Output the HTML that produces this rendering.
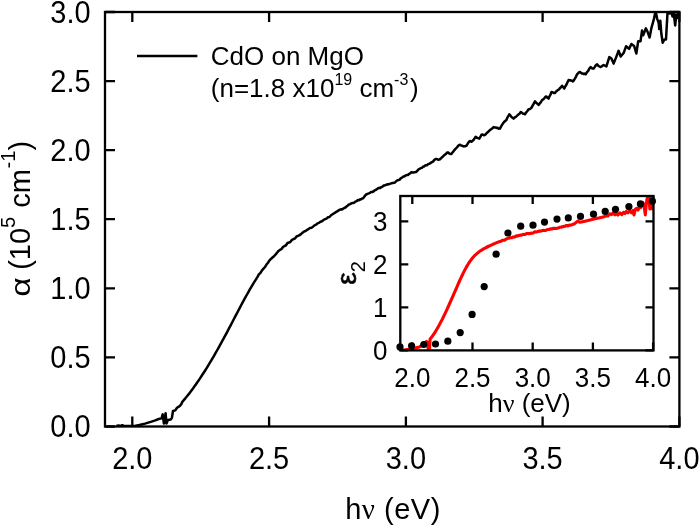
<!DOCTYPE html>
<html><head><meta charset="utf-8"><title>CdO on MgO absorption</title>
<style>html,body{margin:0;padding:0;background:#fff;overflow:hidden}svg{display:block}</style>
</head><body>
<svg width="700" height="526" viewBox="0 0 700 526"><rect width="700" height="526" fill="#fff"/><defs><clipPath id="mc"><rect x="105.0" y="12.0" width="574.4" height="414.5"/></clipPath><clipPath id="ic"><rect x="400.3" y="196.0" width="253.2" height="154.4"/></clipPath></defs><path d="M116.4 426.0 L118.5 425.4 L120.5 426.0 L122.1 425.2 L124.0 426.0 L127.9 425.9 L134.7 425.9 L139.3 425.0 L145.0 423.6 L150.7 421.9 L155.3 420.4 L158.7 419.0 L161.6 418.4 L162.7 414.4 L163.9 423.6 L165.6 413.3 L166.5 423.6 L167.9 420.1 L170.7 419.6 L171.9 417.9 L173.0 411.0 L175.3 410.4 L177.0 407.8 L179.6 406.1 L181.0 404.6 L182.5 401.6 L184.0 399.9 L185.5 398.1 L187.0 396.2 L188.5 394.4 L190.0 392.4 L191.5 390.4 L193.0 388.4 L194.5 386.3 L196.0 384.2 L197.5 382.1 L199.0 379.9 L200.5 377.6 L202.0 375.3 L203.5 373.0 L205.0 370.7 L206.5 368.3 L208.0 365.8 L209.5 363.4 L211.0 360.9 L212.5 358.3 L214.0 355.8 L215.5 353.2 L217.0 350.5 L218.5 347.9 L220.0 345.2 L221.5 342.4 L223.0 339.7 L224.5 336.9 L226.0 334.1 L227.5 331.3 L229.0 328.4 L230.5 325.6 L232.0 322.7 L233.5 319.8 L235.0 316.9 L236.5 314.1 L238.0 311.2 L239.5 308.4 L241.0 305.5 L242.5 302.7 L244.0 299.9 L245.5 297.2 L247.0 294.5 L248.5 291.8 L250.0 289.2 L251.5 286.6 L253.0 284.1 L254.5 281.7 L256.0 279.3 L257.5 276.9 L259.0 274.2 L260.5 272.9 L262.0 270.4 L263.5 268.7 L265.0 267.0 L266.5 264.6 L268.0 262.7 L269.5 260.4 L271.0 258.9 L272.5 257.5 L274.0 256.2 L275.5 254.7 L277.0 252.7 L278.5 250.9 L280.0 249.8 L281.5 249.1 L283.0 247.0 L284.5 246.0 L286.0 245.3 L287.5 243.0 L289.0 242.5 L290.5 241.8 L292.0 239.8 L293.5 239.1 L295.0 238.4 L296.5 236.5 L298.0 235.9 L299.5 235.1 L301.0 234.1 L302.5 232.8 L304.0 231.6 L305.5 231.0 L307.0 229.9 L308.5 229.1 L310.0 228.0 L311.5 227.7 L313.0 226.7 L314.5 225.3 L316.0 224.7 L317.5 223.4 L319.0 222.8 L320.5 221.7 L322.0 221.2 L323.5 220.0 L325.0 219.2 L326.5 218.6 L328.0 217.3 L329.5 217.0 L331.0 215.2 L338.3 210.6 L339.5 209.9 L340.8 209.3 L342.0 209.5 L343.1 208.7 L344.3 208.0 L345.4 207.5 L346.6 206.4 L347.7 205.7 L348.9 204.4 L350.0 204.2 L351.4 203.4 L352.5 202.9 L353.5 202.9 L354.6 202.3 L355.7 201.4 L356.8 201.1 L357.9 199.9 L358.9 200.3 L360.0 199.3 L361.0 199.5 L361.9 198.5 L362.9 198.6 L363.9 197.3 L365.0 195.7 L366.2 194.5 L367.5 193.9 L368.8 193.4 L370.0 192.9 L371.1 191.9 L372.3 192.0 L373.4 191.5 L374.6 190.4 L375.7 190.0 L376.8 189.2 L378.0 188.4 L379.1 187.8 L380.3 187.9 L381.4 187.1 L382.5 186.6 L383.7 185.5 L384.8 185.4 L386.0 184.8 L387.1 184.3 L388.3 184.4 L389.4 184.0 L390.6 183.6 L391.7 183.2 L392.9 182.9 L394.0 182.8 L395.2 182.3 L396.3 181.0 L397.5 180.3 L398.6 180.0 L399.7 179.6 L400.9 178.1 L402.0 177.7 L403.2 176.6 L404.3 176.4 L405.5 175.7 L406.7 175.0 L407.9 175.0 L409.1 173.8 L410.2 173.4 L411.4 172.1 L412.5 172.5 L413.5 172.4 L414.6 172.2 L415.7 172.1 L416.8 171.4 L417.9 170.2 L418.9 169.1 L420.0 168.6 L421.1 168.0 L422.1 167.8 L423.2 166.5 L424.3 166.4 L425.6 165.2 L426.9 165.3 L428.1 164.1 L429.4 163.8 L430.7 162.9 L431.9 162.2 L433.2 161.4 L434.4 159.9 L435.7 159.0 L436.9 159.0 L438.1 159.7 L439.3 159.6 L440.4 158.9 L441.5 157.8 L442.5 157.0 L443.6 155.7 L444.8 154.8 L445.9 154.0 L447.1 152.4 L448.2 152.6 L449.2 153.4 L450.3 154.0 L451.4 153.9 L452.5 152.4 L453.5 151.4 L454.6 149.8 L455.7 148.6 L456.8 147.6 L457.9 146.2 L458.9 145.1 L460.0 144.7 L461.2 145.6 L462.4 145.8 L463.6 146.4 L464.5 146.3 L465.5 146.2 L466.4 145.7 L467.4 144.2 L468.3 142.7 L469.3 141.4 L470.2 141.0 L471.2 141.7 L472.1 141.4 L473.3 140.2 L474.5 138.5 L475.7 136.7 L476.9 137.7 L478.1 138.1 L479.3 138.6 L480.4 136.9 L481.4 134.7 L482.6 134.5 L483.8 135.2 L485.0 135.0 L486.2 133.6 L487.4 132.5 L488.6 131.4 L489.9 130.1 L491.1 129.3 L492.4 128.3 L493.6 127.1 L494.5 127.4 L495.5 127.4 L496.4 127.9 L497.6 127.8 L498.8 128.7 L500.0 128.6 L501.0 126.7 L501.9 125.2 L502.9 123.6 L504.1 122.0 L505.2 121.0 L506.4 120.0 L507.4 117.6 L508.3 116.0 L509.3 114.3 L510.4 115.6 L511.5 117.0 L512.5 117.7 L513.6 118.6 L514.8 117.4 L515.9 116.8 L517.1 115.7 L518.3 114.6 L519.5 113.7 L520.7 112.1 L521.8 112.7 L522.9 113.7 L523.9 113.7 L525.0 114.3 L526.2 112.4 L527.4 111.0 L528.6 109.3 L529.5 109.3 L530.5 108.6 L531.4 107.9 L532.6 105.7 L533.8 103.6 L535.0 101.4 L536.2 102.8 L537.4 103.7 L538.6 105.0 L539.8 103.4 L540.9 102.2 L542.1 100.0 L543.3 99.3 L544.5 98.0 L545.7 96.4 L546.7 96.7 L547.6 97.9 L548.6 98.6 L549.5 96.3 L550.5 94.7 L551.4 92.1 L552.6 92.2 L553.8 93.1 L555.0 92.9 L556.0 91.6 L556.9 90.9 L557.9 90.0 L559.0 89.4 L560.0 88.0 L561.0 87.3 L562.1 85.7 L563.2 87.2 L564.3 88.6 L565.4 86.2 L566.5 84.5 L567.5 82.2 L568.6 80.0 L569.7 80.4 L570.8 80.3 L571.8 80.7 L572.9 81.4 L574.0 80.1 L575.0 78.4 L576.0 76.6 L577.1 74.3 L578.1 73.4 L579.0 72.3 L580.0 72.1 L581.0 72.7 L581.9 73.4 L582.9 73.6 L583.8 74.0 L584.8 73.6 L585.7 74.3 L587.0 72.2 L588.2 70.9 L589.5 68.4 L590.7 67.1 L591.7 68.0 L592.6 68.6 L593.6 68.6 L594.8 66.9 L595.9 65.2 L597.1 64.3 L598.3 65.8 L599.5 66.5 L600.7 67.1 L603.6 65.0 L606.4 66.4 L609.3 57.1 L611.4 58.6 L613.6 63.6 L616.0 57.6 L618.6 50.8 L620.7 56.5 L623.8 52.7 L626.1 46.2 L629.1 48.9 L631.4 44.0 L634.1 45.9 L636.3 53.5 L638.2 41.3 L640.5 41.3 L642.0 30.6 L643.2 35.2 L645.8 28.4 L647.4 31.4 L649.6 37.5 L651.5 27.6 L653.0 22.3 L654.0 18.6 L655.6 11.0 L657.1 18.6 L658.7 22.8 L659.2 29.1 L660.3 20.7 L661.3 33.3 L662.7 42.7 L664.5 39.5 L666.0 39.5 L667.6 11.0 L669.5 13.5 L671.0 11.5 L672.5 16.5 L673.6 12.5 L675.2 25.4 L676.3 14.5 L677.3 18.0 L678.6 11.0" fill="none" stroke="#000" stroke-width="2.5" stroke-linejoin="round" clip-path="url(#mc)"/><rect x="105.0" y="12.0" width="574.4" height="414.5" fill="none" stroke="#000" stroke-width="2.3"/><path d="M132.3 426.5 V416.5 M132.3 12.0 V22.0 M269.1 426.5 V416.5 M269.1 12.0 V22.0 M405.9 426.5 V416.5 M405.9 12.0 V22.0 M542.6 426.5 V416.5 M542.6 12.0 V22.0 M679.4 426.5 V416.5 M679.4 12.0 V22.0 M105.0 426.5 H115.0 M679.4 426.5 H669.4 M105.0 357.4 H115.0 M679.4 357.4 H669.4 M105.0 288.3 H115.0 M679.4 288.3 H669.4 M105.0 219.2 H115.0 M679.4 219.2 H669.4 M105.0 150.2 H115.0 M679.4 150.2 H669.4 M105.0 81.1 H115.0 M679.4 81.1 H669.4 M105.0 12.0 H115.0 M679.4 12.0 H669.4" stroke="#000" stroke-width="2.3" fill="none"/><g font-family="'Liberation Sans', Arial, Helvetica, sans-serif" font-size="29" fill="#000"><text transform="translate(90.6 437.4) scale(1 1.065)" text-anchor="end">0.0</text><text transform="translate(90.6 368.3) scale(1 1.065)" text-anchor="end">0.5</text><text transform="translate(90.6 299.2) scale(1 1.065)" text-anchor="end">1.0</text><text transform="translate(90.6 230.2) scale(1 1.065)" text-anchor="end">1.5</text><text transform="translate(90.6 161.1) scale(1 1.065)" text-anchor="end">2.0</text><text transform="translate(90.6 92.0) scale(1 1.065)" text-anchor="end">2.5</text><text transform="translate(90.6 22.9) scale(1 1.065)" text-anchor="end">3.0</text><text transform="translate(132.3 468.8) scale(1 1.065)" text-anchor="middle">2.0</text><text transform="translate(269.1 468.8) scale(1 1.065)" text-anchor="middle">2.5</text><text transform="translate(405.9 468.8) scale(1 1.065)" text-anchor="middle">3.0</text><text transform="translate(542.6 468.8) scale(1 1.065)" text-anchor="middle">3.5</text><text transform="translate(679.4 468.8) scale(1 1.065)" text-anchor="middle">4.0</text><text x="393" y="518.9" text-anchor="middle" letter-spacing="0.5">h<tspan font-family="Liberation Serif">ν</tspan> (eV)</text><text transform="translate(29.9 296.7) rotate(-90) scale(1.16 0.97)">α</text><text transform="translate(29.9 0) rotate(-90)"><tspan x="-269.8" y="0">(10</tspan><tspan y="-15.1" font-size="20">5</tspan><tspan x="-207.7" y="0">cm</tspan><tspan x="-168.5" y="-15" font-size="20">-1</tspan><tspan x="-150.4" y="0">)</tspan></text></g><path d="M137 56 H197.4" stroke="#000" stroke-width="2.4"/><g font-family="'Liberation Sans', Arial, Helvetica, sans-serif" font-size="26" fill="#000"><text x="210.8" y="64.5">CdO on MgO</text><text x="210.8" y="97">(n=1.8 x10<tspan dy="-12" font-size="16">19</tspan><tspan dy="12"> cm</tspan><tspan dy="-12" font-size="16">-3</tspan><tspan dy="12" dx="1.6">)</tspan></text></g><rect x="400.3" y="196.0" width="253.2" height="154.4" fill="#fff"/><path d="M401.5 350.2 L405.0 349.8 L410.0 349.0 L415.0 348.0 L419.4 347.1 L423.0 344.5 L426.6 341.4 L427.8 343.0 L428.4 351.4 L429.4 351.4 L430.1 339.0 L431.1 337.8 L432.1 336.5 L433.1 335.1 L434.1 333.6 L435.1 332.1 L436.1 330.5 L437.1 328.8 L438.1 327.1 L439.1 325.3 L440.1 323.4 L441.1 321.5 L442.1 319.6 L443.1 317.6 L444.1 315.5 L445.1 313.4 L446.1 311.3 L447.1 309.2 L448.1 307.0 L449.1 304.7 L450.1 302.5 L451.1 300.2 L452.1 298.0 L453.1 295.7 L454.1 293.4 L455.1 291.1 L456.1 288.8 L457.1 286.5 L458.1 284.2 L459.1 282.0 L460.1 279.7 L461.1 277.6 L462.1 275.5 L463.1 273.4 L464.1 271.4 L465.1 269.5 L466.1 267.6 L467.1 265.9 L468.1 264.2 L469.1 262.6 L470.1 261.2 L471.1 259.8 L472.1 258.5 L473.1 257.3 L474.1 256.2 L475.1 255.2 L476.1 254.3 L477.1 253.4 L478.1 252.6 L479.1 251.8 L480.1 251.1 L481.1 250.4 L482.1 249.8 L483.1 249.2 L484.1 248.6 L485.1 248.1 L486.1 247.5 L487.1 247.0 L488.1 246.5 L489.1 246.0 L490.1 245.6 L491.1 245.1 L492.1 244.7 L493.1 244.2 L494.1 243.8 L495.1 243.4 L496.1 242.9 L497.1 242.5 L498.1 242.1 L499.1 241.7 L500.1 241.4 L501.1 241.2 L502.1 240.4 L503.1 240.3 L504.1 240.3 L505.1 240.0 L506.1 238.9 L507.1 238.7 L508.1 238.2 L509.1 238.3 L510.1 237.6 L511.1 237.7 L512.1 237.6 L513.1 236.9 L514.1 237.1 L515.1 236.7 L516.1 235.9 L517.1 236.2 L518.1 235.6 L519.1 235.5 L520.1 235.1 L521.1 235.3 L522.1 234.8 L523.1 234.3 L524.1 234.5 L525.1 234.5 L526.1 233.8 L527.1 233.5 L528.1 233.5 L529.1 233.8 L530.1 233.6 L531.1 233.1 L532.1 233.2 L533.1 232.9 L534.1 232.2 L535.1 231.8 L536.1 232.1 L537.1 231.8 L538.1 231.4 L539.1 231.1 L540.1 231.1 L541.1 231.0 L542.1 230.6 L543.1 230.4 L544.1 230.4 L545.1 230.6 L546.1 230.2 L547.1 229.7 L548.1 229.5 L549.1 229.5 L550.1 229.0 L551.1 228.8 L552.1 229.0 L553.1 228.3 L554.1 228.5 L555.1 228.2 L556.1 228.4 L557.1 228.2 L558.1 227.9 L559.1 227.7 L560.1 227.2 L561.1 227.3 L562.1 226.7 L563.1 226.7 L564.1 226.3 L565.1 226.2 L566.1 225.5 L567.1 225.5 L568.1 226.0 L569.1 225.0 L570.1 225.2 L571.1 224.9 L572.1 224.7 L573.1 224.2 L574.1 224.0 L578.0 221.1 L580.0 222.3 L585.0 221.2 L590.0 220.0 L595.0 218.8 L600.0 217.7 L604.0 216.8 L606.4 215.7 L608.0 216.0 L610.0 213.8 L611.6 214.6 L613.0 213.0 L615.0 214.8 L616.7 213.3 L618.0 215.0 L620.0 212.8 L621.8 214.6 L623.5 212.3 L625.0 213.6 L626.3 211.3 L628.0 212.8 L629.9 210.8 L631.5 212.8 L633.0 210.5 L634.0 215.0 L635.2 209.5 L636.7 208.3 L638.0 210.0 L639.5 206.8 L640.7 207.5 L642.0 204.6 L643.0 202.6 L644.2 207.0 L645.3 214.9 L646.2 205.0 L647.0 199.0 L648.7 195.4 L649.9 209.0 L650.8 203.0 L651.6 197.7 L652.7 209.0 L653.5 203.0" fill="none" stroke="#f00" stroke-width="3.1" stroke-linejoin="round" clip-path="url(#ic)"/><circle cx="400.0" cy="346.9" r="3.6" fill="#000"/><circle cx="411.6" cy="345.8" r="3.6" fill="#000"/><circle cx="423.8" cy="344.5" r="3.6" fill="#000"/><circle cx="435.5" cy="344.0" r="3.6" fill="#000"/><circle cx="447.8" cy="341.2" r="3.6" fill="#000"/><circle cx="460.2" cy="332.6" r="3.6" fill="#000"/><circle cx="472.1" cy="314.4" r="3.6" fill="#000"/><circle cx="484.2" cy="286.6" r="3.6" fill="#000"/><circle cx="496.1" cy="254.2" r="3.6" fill="#000"/><circle cx="507.9" cy="233.0" r="3.6" fill="#000"/><circle cx="520.7" cy="226.2" r="3.6" fill="#000"/><circle cx="533.0" cy="225.2" r="3.6" fill="#000"/><circle cx="544.5" cy="222.1" r="3.6" fill="#000"/><circle cx="557.0" cy="219.1" r="3.6" fill="#000"/><circle cx="568.3" cy="217.9" r="3.6" fill="#000"/><circle cx="580.5" cy="216.4" r="3.6" fill="#000"/><circle cx="593.5" cy="214.2" r="3.6" fill="#000"/><circle cx="605.2" cy="211.4" r="3.6" fill="#000"/><circle cx="615.5" cy="209.3" r="3.6" fill="#000"/><circle cx="628.9" cy="206.6" r="3.6" fill="#000"/><circle cx="640.4" cy="203.9" r="3.6" fill="#000"/><circle cx="652.4" cy="201.2" r="3.6" fill="#000"/><rect x="400.3" y="196.0" width="253.2" height="154.4" fill="none" stroke="#000" stroke-width="2.3"/><path d="M412.3 350.4 V342.4 M412.3 196.0 V204.0 M472.5 350.4 V342.4 M472.5 196.0 V204.0 M532.7 350.4 V342.4 M532.7 196.0 V204.0 M592.9 350.4 V342.4 M592.9 196.0 V204.0 M653.1 350.4 V342.4 M653.1 196.0 V204.0 M400.3 350.4 H408.3 M653.5 350.4 H645.5 M400.3 307.4 H408.3 M653.5 307.4 H645.5 M400.3 264.3 H408.3 M653.5 264.3 H645.5 M400.3 221.3 H408.3 M653.5 221.3 H645.5" stroke="#000" stroke-width="2.3" fill="none"/><g font-family="'Liberation Sans', Arial, Helvetica, sans-serif" font-size="26" fill="#000"><text transform="translate(387.5 359.9) scale(1 1.065)" text-anchor="end">0</text><text transform="translate(387.5 316.9) scale(1 1.065)" text-anchor="end">1</text><text transform="translate(387.5 273.8) scale(1 1.065)" text-anchor="end">2</text><text transform="translate(387.5 230.8) scale(1 1.065)" text-anchor="end">3</text><text transform="translate(412.3 386.9) scale(1 1.065)" text-anchor="middle">2.0</text><text transform="translate(472.5 386.9) scale(1 1.065)" text-anchor="middle">2.5</text><text transform="translate(532.7 386.9) scale(1 1.065)" text-anchor="middle">3.0</text><text transform="translate(592.9 386.9) scale(1 1.065)" text-anchor="middle">3.5</text><text transform="translate(653.1 386.9) scale(1 1.065)" text-anchor="middle">4.0</text><text x="529.5" y="411.9" text-anchor="middle">h<tspan font-family="Liberation Serif">ν</tspan> (eV)</text><text transform="translate(355.6,273) rotate(-90)" text-anchor="middle"><tspan font-size="28" stroke="#000" stroke-width="0.6">ε</tspan><tspan dy="9.5" font-size="20">2</tspan></text></g></svg>
</body></html>
